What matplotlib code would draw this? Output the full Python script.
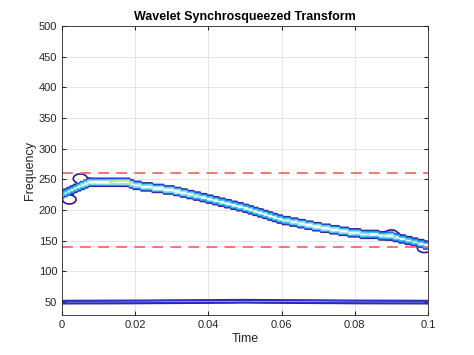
import numpy as np
import matplotlib.pyplot as plt
from matplotlib.colors import LinearSegmentedColormap

# ridge of the chirp component
ridge_t = [0.0, 0.004, 0.008, 0.018, 0.02, 0.03, 0.038, 0.05, 0.06, 0.07, 0.08, 0.09, 0.1]
ridge_f = [225, 236, 246, 245, 240, 232, 221, 203, 184, 172, 162, 157, 142]
ridge_amp = [0.6, 0.7, 0.85, 0.95, 0.8, 0.9, 0.75, 0.75, 0.75, 0.9, 0.8, 0.7, 0.6]

# constant tone near 50 Hz
tone_t = [0.0, 0.02, 0.04, 0.05, 0.06, 0.08, 0.1]
tone_f = [49.5, 49.8, 50.5, 51, 50.5, 49.8, 49.5]

# weak spurs next to the ridge (time, frequency, strength)
spur_t = [0.005, 0.002, 0.09, 0.099]
spur_f = [251, 217, 160, 138]
spur_a = [0.15, 0.14, 0.14, 0.15]

bounds = [140, 260]

parula = LinearSegmentedColormap.from_list('parula', [
    (0.22, 0.08, 0.55), (0.15, 0.22, 0.85), (0.08, 0.50, 0.95),
    (0.15, 0.75, 0.90), (0.60, 0.88, 0.92), (0.85, 0.90, 0.25)])

plt.rcParams['font.family'] = ['Liberation Sans', 'DejaVu Sans']

# field drawn as a contour around the ridges
t = np.linspace(0, 0.1, 1000)
f = np.arange(20, 510, 0.5)
T, F = np.meshgrid(t, f)
rf = np.round(np.interp(t, ridge_t, ridge_f) / 2.5) * 2.5
ra = np.interp(t, ridge_t, ridge_amp)
tf = np.interp(t, tone_t, tone_f)
Z = ra * np.exp(-((F - rf) / 5.0) ** 4) + 0.3 * np.exp(-((F - tf) / 2.2) ** 4)
for st, sf, sa in zip(spur_t, spur_f, spur_a):
    Z += sa * np.exp(-((T - st) / 0.002) ** 2 - ((F - sf) / 8.0) ** 2)

fig = plt.figure(figsize=(4.74, 3.55), dpi=100)
ax = fig.add_axes([62 / 474, 40 / 355, 366 / 474, 289 / 355])
levels = np.linspace(0.06, 0.9, 7)
ax.contour(T, F, Z, levels=levels, cmap=parula, vmin=0.06, vmax=0.95,
           linewidths=[1.2, 1.2, 1.0, 0.9, 0.9, 0.9, 0.9])
for b in bounds:
    ax.axhline(b, color=(1, 0.4, 0.4), ls=(0, (6, 4)), lw=1.3)

ax.set_xlim(0, 0.1)
ax.set_ylim(28.5, 500)
ax.set_xticks(np.arange(0, 0.101, 0.02))
ax.set_xticklabels(['0', '0.02', '0.04', '0.06', '0.08', '0.1'])
ax.set_yticks(np.arange(50, 501, 50))
ax.grid(True, color='#e0e0e0', lw=0.6)
ax.set_axisbelow(True)
ax.tick_params(direction='in', length=3, labelsize=8, colors='#262626', top=True, right=True,
               labeltop=False, labelright=False)
for s in ax.spines.values():
    s.set_color('#262626')
    s.set_linewidth(0.6)
ax.set_xlabel('Time', fontsize=9, color='#262626', labelpad=2)
ax.set_ylabel('Frequency', fontsize=9, color='#262626', labelpad=2)
ax.set_title('Wavelet Synchrosqueezed Transform', fontsize=9, fontweight='bold', pad=4)

fig.savefig('out.png', dpi=100)
